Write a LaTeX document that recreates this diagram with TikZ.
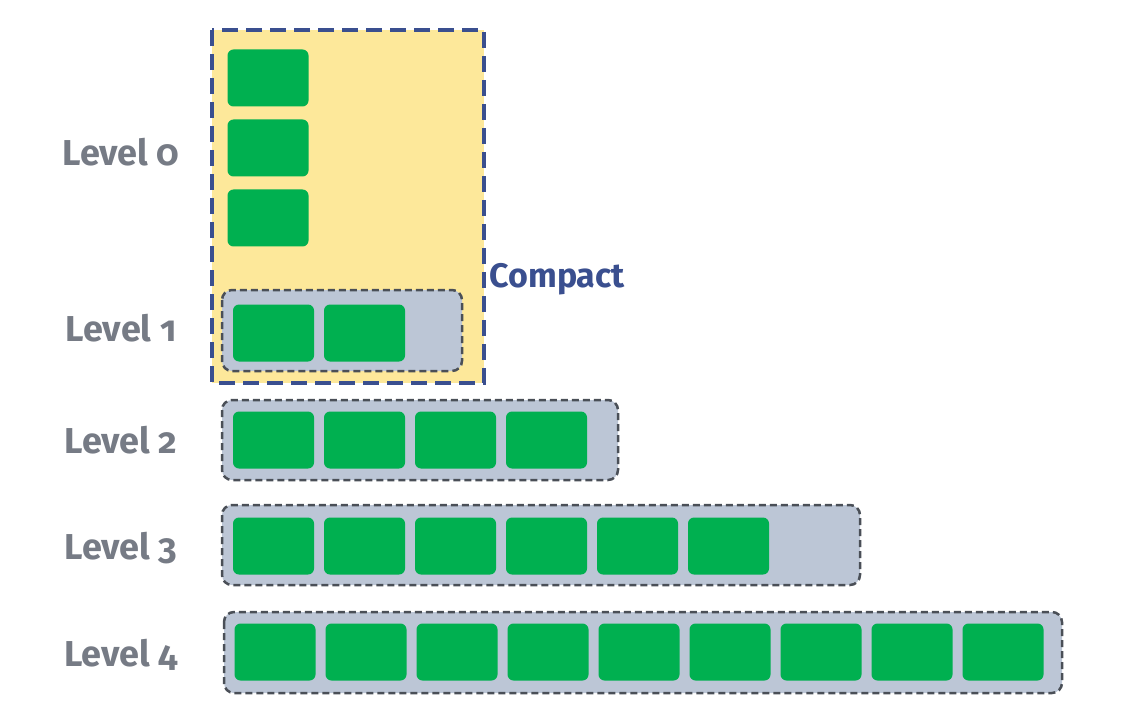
\documentclass[tikz,border=0pt]{standalone}
\usepackage{fontspec}
\setmainfont{Fira Sans}[Numbers=OldStyle]
\usetikzlibrary{positioning}
\definecolor{cgreen}{HTML}{00B050}
\definecolor{cgray}{HTML}{BCC6D6}
\definecolor{cedge}{HTML}{4A4F57}
\definecolor{clabel}{HTML}{767B85}
\definecolor{cblue}{HTML}{3A4F8F}
\definecolor{cyellow}{HTML}{FDE89A}
\tikzstyle{item} = [rectangle, fill=cgreen, rounded corners=6pt, minimum width=81pt, minimum height=57pt, inner sep=0pt]
\tikzstyle{level} = [rectangle, draw=cedge, fill=cgray, line width=2.5pt, dash pattern=on 7pt off 4pt, rounded corners=10pt]
\tikzstyle{label} = [text=clabel, font=\fontsize{36}{40}\selectfont\bfseries, anchor=center]
\tikzstyle{compact} = [rectangle, fill=cyellow, draw=cblue, line width=4pt, dash pattern=on 16pt off 8pt]

\begin{document}
\begin{tikzpicture}[x=1pt, y=-1pt]
        \useasboundingbox (0,0) rectangle (1126,727);
        % Compaction area
        \draw [compact] (212,30) rectangle (484,383);
        \node [text=cblue, font=\fontsize{34}{40}\selectfont\bfseries, anchor=west] (compact) at (486,279) {Compact};
        % Level frames
        \draw [level] (222,290) rectangle (462,371);
        \draw [level] (222,400) rectangle (618,480);
        \draw [level] (222,505) rectangle (860,585);
        \draw [level] (224,612) rectangle (1062,693);
        % Items
        \foreach \y [count=\i] in {78,148,218}
            \node [item] (l0-\i) at (268,\y) {};
        \foreach \i in {1,2}
            \node [item] (l1-\i) at ({273.5+91*(\i-1)},333) {};
        \foreach \i in {1,...,4}
            \node [item] (l2-\i) at ({273.5+91*(\i-1)},440) {};
        \foreach \i in {1,...,6}
            \node [item] (l3-\i) at ({273.5+91*(\i-1)},546) {};
        \foreach \i in {1,...,9}
            \node [item] (l4-\i) at ({275+91*(\i-1)},652) {};
        % Labels
        \node [label] (lab0) at (121,152) {Level 0};
        \node [label] (lab1) at (121,328) {Level 1};
        \node [label] (lab2) at (121,440) {Level 2};
        \node [label] (lab3) at (121,548) {Level 3};
        \node [label] (lab4) at (121,655) {Level 4};
\end{tikzpicture}
\end{document}
